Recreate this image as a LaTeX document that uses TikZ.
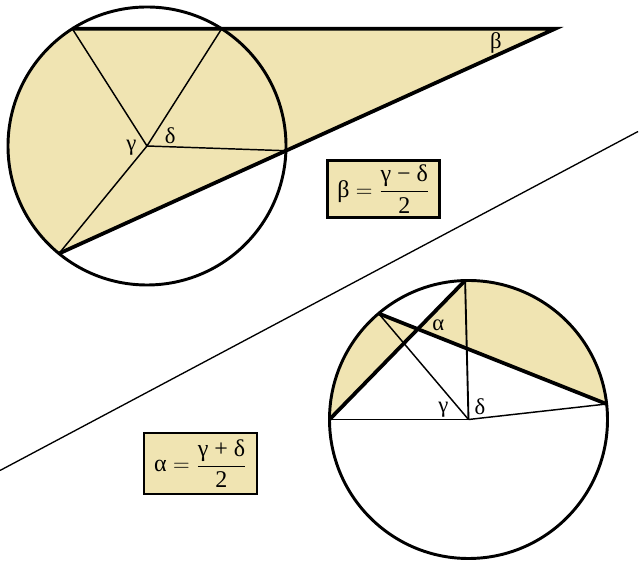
\documentclass[tikz,border=0pt]{standalone}
\usepackage{fontspec}
\setmainfont{Liberation Serif}
\usepackage{tikz}
\usetikzlibrary{positioning}
\definecolor{sand}{RGB}{240,228,178}
\tikzstyle{rim} = [draw=black, line width=2.2pt]
\tikzstyle{sec} = [draw=black, line width=2.8pt, line join=miter]
\tikzstyle{rad} = [draw=black, line width=1.1pt]
\tikzstyle{lab} = [font=\fontsize{17}{19}\selectfont, inner sep=0.5pt]
\tikzstyle{frm} = [rectangle, fill=sand, draw=black, line width=2.2pt, align=center, inner sep=0pt, font=\fontsize{18}{20}\selectfont]

\begin{document}
\begin{tikzpicture}[x=0.75pt, y=-0.75pt]
		\useasboundingbox (0,0) rectangle (640,573);

		% upper picture: two secants from P
		\coordinate (O) at (147,146);
		\coordinate (A) at ([shift={(237.5:139)}]O);
		\coordinate (B) at ([shift={(302.5:139)}]O);
		\coordinate (C) at ([shift={(1.95:139)}]O);
		\coordinate (D) at ([shift={(129.3:139)}]O);
		\coordinate (P) at (intersection of A--B and D--C);

		\fill[sand] (A) arc[start angle=237.5, end angle=129.3, radius=139] -- (P) -- cycle;
		\draw[rad] (O) -- (A);
		\draw[rad] (O) -- (B);
		\draw[rad] (O) -- (C);
		\draw[rad] (O) -- (D);
		\draw[sec] (A) -- (P) -- (D);
		\draw[rim] (O) circle[radius=139];

		\node[lab] (gam1) at (131.5,147.5) {γ};
		\node[lab] (del1) at (170.3,135.5) {δ};
		\node[lab] (bet1) at (495.8,43.3) {β};

		\node[frm, minimum width=84pt, minimum height=42.75pt] (fbeta) at (383.5,189)
			{$\mbox{β} = \displaystyle\frac{\mbox{γ − δ}}{\mbox{2}}$};

		% dividing line
		\coordinate (s1) at (0,470.5);
		\coordinate (s2) at (638,131.5);
		\draw[rad, line width=1pt] (s1) -- (s2);

		% lower picture: two chords crossing at X
		\coordinate (Q) at (468.5,419.5);
		\coordinate (H) at ([shift={(180:139)}]Q);
		\coordinate (F) at ([shift={(229.7:139)}]Q);
		\coordinate (E) at ([shift={(268.6:139)}]Q);
		\coordinate (G) at ([shift={(353.6:139)}]Q);
		\coordinate (X) at (intersection of H--E and F--G);

		\fill[sand] (H) arc[start angle=180, end angle=229.7, radius=139] -- (X) -- cycle;
		\fill[sand] (E) arc[start angle=268.6, end angle=353.6, radius=139] -- (X) -- cycle;
		\draw[rad] (Q) -- (H);
		\draw[rad] (Q) -- (F);
		\draw[rad, line width=1.4pt] (Q) -- (E);
		\draw[rad] (Q) -- (G);
		\draw[sec] (H) -- (E);
		\draw[sec] (F) -- (G);
		\draw[rim] (Q) circle[radius=139];

		\node[lab] (alp2) at (438.3,325) {α};
		\node[lab] (gam2) at (443.3,410) {γ};
		\node[lab] (del2) at (480,406.3) {δ};

		\node[frm, minimum width=84.75pt, minimum height=45.75pt] (falpha) at (200.5,463.5)
			{$\mbox{α} = \displaystyle\frac{\mbox{γ + δ}}{\mbox{2}}$};
	\end{tikzpicture}
\end{document}
